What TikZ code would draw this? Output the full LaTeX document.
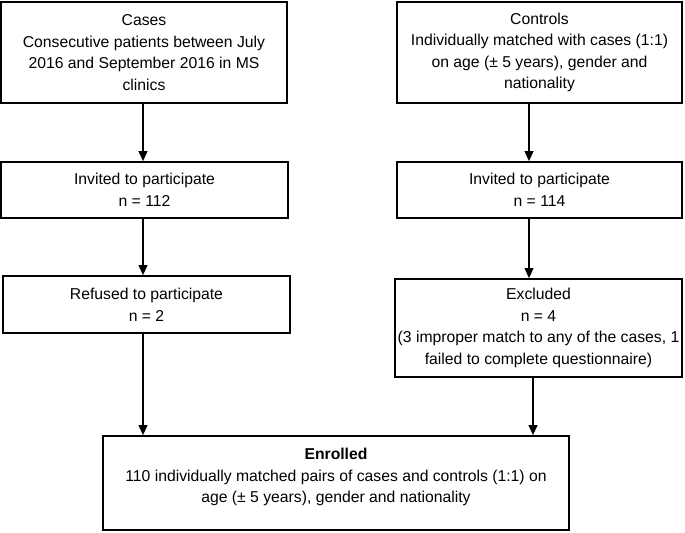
\documentclass[tikz,border=0pt]{standalone}
\usepackage{fontspec}
\setmainfont{Liberation Sans}
\usetikzlibrary{arrows.meta}
\usetikzlibrary{positioning}
\tikzset {
  flow path/.style = {
    draw = black,
    line width = 1.3pt
  },
  % connector with a filled head
  arr/.style = {
    flow path,
    -{Triangle[width=6.5pt,length=7.5pt]}
  }
}
\tikzset {
  flow node/.style = {
    draw = black,
    line width = 1.2pt,
    rectangle,
    align = center,
    inner sep = 0,
    font = \fontsize{11.8}{16.2}\selectfont
  },
  % box of a given width and height, in pixels of the sheet
  stage/.style 2 args = {
    flow node,
    minimum width = #1*0.75pt,
    minimum height = #2*0.75pt
  }
}

\begin{document}
\begin{tikzpicture}[x=0.75pt,y=-0.75pt]
    \useasboundingbox (0,0) rectangle (685,532);

    % columns the connectors run down
    \coordinate (lcol) at (143,0);
    \coordinate (rcol) at (529,0);
    \coordinate (rcol-low) at (533,0);

    \node[stage={286}{101}] (cases) at (144,52.5)
      {Cases\\Consecutive patients between July\\2016 and September 2016 in MS\\clinics};
    \node[stage={285}{101}] (controls) at (539.5,52.5)
      {Controls\\Individually matched with cases (1:1)\\on age (± 5 years), gender and\\nationality};
    \node[stage={287}{56}] (invited-cases) at (144.5,190)
      {Invited to participate\\n = 112};
    \node[stage={285}{56}] (invited-controls) at (539.5,190)
      {Invited to participate\\n = 114};
    \node[stage={287}{57}] (refused) at (146.5,304.5)
      {Refused to participate\\n = 2};
    \node[stage={287}{98}] (excluded) at (538.5,328)
      {Excluded\\n = 4\\(3 improper match to any of the cases, 1\\failed to complete questionnaire)};
    % text sits a little above the middle of this box
    \node[stage={466}{94}, text depth=11.5pt] (enrolled) at (336,483)
      {\textbf{Enrolled}\\110 individually matched pairs of cases and controls (1:1) on\\age (± 5 years), gender and nationality};

    \draw[arr] (cases.south -| lcol) -- (invited-cases.north -| lcol);
    \draw[arr] (invited-cases.south -| lcol) -- (refused.north -| lcol);
    \draw[arr] (refused.south -| lcol) -- (enrolled.north -| lcol);
    \draw[arr] (controls.south -| rcol) -- (invited-controls.north -| rcol);
    \draw[arr] (invited-controls.south -| rcol) -- (excluded.north -| rcol);
    \draw[arr] (excluded.south -| rcol-low) -- (enrolled.north -| rcol-low);
  \end{tikzpicture}
\end{document}
